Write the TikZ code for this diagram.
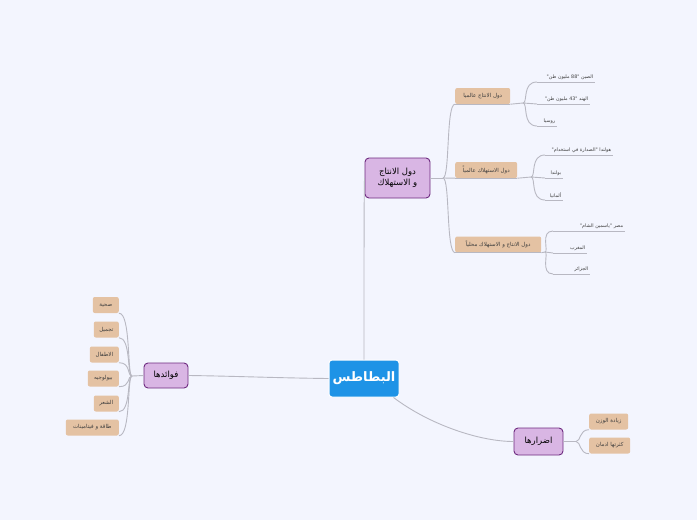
\documentclass[tikz,border=0pt]{standalone}
\usepackage{fontspec}
\TeXXeTstate=1
\newfontfamily\arfont[Script=Arabic]{DejaVu Sans}
\newcommand\artxt[1]{\beginR #1\endR}
\definecolor{bgc}{HTML}{F3F5FE}
\definecolor{bluec}{HTML}{1E93E6}
\definecolor{purfill}{HTML}{D9B6E4}
\definecolor{purdraw}{HTML}{6E2A80}
\definecolor{tanc}{HTML}{E4C2A3}
\definecolor{linec}{HTML}{B8B8C2}
\definecolor{txtc}{HTML}{3E3E3E}
\tikzset{
  conn/.style={draw=linec, line width=0.9pt},
  uline/.style={draw=linec, line width=0.7pt},
  rootbox/.style={fill=bluec, draw=white, line width=1pt, rounded corners=3pt, text=white,
    font=\arfont\fontsize{13}{15}\selectfont\bfseries, minimum width=70pt, minimum height=37pt},
  purbox/.style={fill=purfill, draw=purdraw, line width=0.9pt, rounded corners=4pt, text=black,
    font=\arfont\fontsize{8.5}{10.5}\selectfont, align=center, inner sep=2pt},
  tanbox/.style={fill=tanc, rounded corners=2pt, text=txtc,
    font=\arfont\fontsize{5.5}{7}\selectfont, minimum height=16pt, inner xsep=3pt},
  leaf/.style={font=\arfont\fontsize{4.8}{6}\selectfont, text=txtc, inner xsep=2pt, inner ysep=2pt,
    align=right, text width=#1, anchor=south west}
}
\begin{document}
\begin{tikzpicture}[x=1pt,y=-1pt]
\fill[bgc] (0,0) rectangle (697,520);
\useasboundingbox (0,0) rectangle (697,520);

% main nodes
\node[rootbox] (root) at (364,378.5) {\artxt{البطاطس}};
\node[purbox, minimum width=65pt, minimum height=40pt] (m1) at (397.5,178)
  {\artxt{دول الانتاج}\\\artxt{و الاستهلاك}};
\node[purbox, minimum width=44pt, minimum height=25pt] (m2) at (166,375.5) {\artxt{فوائدها}};
\node[purbox, minimum width=49pt, minimum height=27pt] (m3) at (538.5,441.5) {\artxt{اضرارها}};

% level 2 (right top)
\node[tanbox, anchor=west, minimum width=55pt] (p1) at (455,96) {\artxt{دول الانتاج عالميا}};
\node[tanbox, anchor=west, minimum width=62pt] (p2) at (455,170) {\artxt{دول الاستهلاك عالمياً}};
\node[tanbox, anchor=west, minimum width=86pt] (p3) at (455,244.5) {\artxt{دول الانتاج و الاستهلاك محلياً}};

% level 2 (left)
\node[tanbox, anchor=east, minimum width=26pt] (b1) at (119,305) {\artxt{صحية}};
\node[tanbox, anchor=east, minimum width=25pt] (b2) at (119,329.5) {\artxt{تجميل}};
\node[tanbox, anchor=east, minimum width=29pt] (b3) at (119,354.5) {\artxt{الاطفال}};
\node[tanbox, anchor=east, minimum width=31pt] (b4) at (119,378.5) {\artxt{بيولوجيه}};
\node[tanbox, anchor=east, minimum width=25pt] (b5) at (119,403.5) {\artxt{الشعر}};
\node[tanbox, anchor=east, minimum width=53pt] (b6) at (119,427.5) {\artxt{طاقة و فيتامينات}};

% level 2 (bottom right)
\node[tanbox, anchor=west, minimum width=39pt] (h1) at (589,421.5) {\artxt{زيادة الوزن}};
\node[tanbox, anchor=west, minimum width=41pt] (h2) at (589,445.5) {\artxt{كثرتها ادمان}};

% leaves
\node[leaf=54pt] (l1) at (537,82) {\artxt{الصين "\beginL88\endL{} مليون طن"}};
\node[leaf=49pt] (l2) at (537,104) {\artxt{الهند "\beginL43\endL{} مليون طن"}};
\node[leaf=16pt] (l3) at (537,126) {\artxt{روسيا}};
\node[leaf=64pt] (l4) at (545,155) {\artxt{هولندا "الصدارة في استخدام"}};
\node[leaf=14pt] (l5) at (545,178) {\artxt{بولندا}};
\node[leaf=14pt] (l6) at (545,200) {\artxt{ألمانيا}};
\node[leaf=68pt] (l7) at (553,231) {\artxt{مصر "ياسمين الشام"}};
\node[leaf=30pt] (l8) at (553,253) {\artxt{المغرب}};
\node[leaf=33pt] (l9) at (553,274) {\artxt{الجزائر}};

\foreach \n in {l1,l2,l3,l4,l5,l6,l7,l8,l9}{
  \draw[uline] (\n.south west) -- (\n.south east);
}

% fork points
\coordinate (fm1) at (443,178);
\coordinate (f1) at (523,103);
\coordinate (f2) at (531,177);
\coordinate (f3) at (545,252);
\coordinate (fm2) at (132,376);
\coordinate (fm3) at (576,441.5);

% root connectors
\draw[conn] (root.north) .. controls (364,260) and (364,190) .. (m1.west);
\draw[conn] (root.west) .. controls (280,378) and (230,376) .. (m2.east);
\draw[conn] ([xshift=-6pt]root.south east) .. controls (430,425) and (480,441.5) .. (m3.west);

% m1 to p's
\draw[conn] (m1.east) -- (fm1);
\draw[conn] (fm1) .. controls (450,178) and (446,104) .. (p1.south west);
\draw[conn] (fm1) .. controls (449,178) and (449,178) .. (p2.south west);
\draw[conn] (fm1) .. controls (450,178) and (446,252) .. (p3.south west);
\draw[conn] (p1.south west) -- (p1.south east);
\draw[conn] (p2.south west) -- (p2.south east);
\draw[conn] (p3.south west) -- (p3.south east);

% p to leaves
\draw[conn] (p1.south east) -- (f1);
\draw[conn] (f1) .. controls (528,103) and (522,82) .. (l1.south west);
\draw[conn] (f1) -- (l2.south west);
\draw[conn] (f1) .. controls (528,103) and (522,126) .. (l3.south west);

\draw[conn] (p2.south east) -- (f2);
\draw[conn] (f2) .. controls (536,177) and (530,155) .. (l4.south west);
\draw[conn] (f2) .. controls (538,177) and (538,178) .. (l5.south west);
\draw[conn] (f2) .. controls (536,177) and (530,200) .. (l6.south west);

\draw[conn] (p3.south east) -- (f3);
\draw[conn] (f3) .. controls (549,252) and (540,231) .. (l7.south west);
\draw[conn] (f3) .. controls (549,252) and (549,253) .. (l8.south west);
\draw[conn] (f3) .. controls (549,252) and (540,274) .. (l9.south west);

% m2 to b's
\draw[conn] (m2.west) -- (fm2);
\foreach \n in {b1,b2,b3,b4,b5,b6}{
  \draw[conn] (fm2) .. controls +(-5,0) and +(12,0) .. (\n.south east);
}

% m3 to h's
\draw[conn] (m3.east) -- (fm3);
\draw[conn] (fm3) .. controls +(5,0) and +(-10,0) .. (h1.south west);
\draw[conn] (fm3) .. controls +(5,0) and +(-10,0) .. (h2.south west);
\end{tikzpicture}
\end{document}
